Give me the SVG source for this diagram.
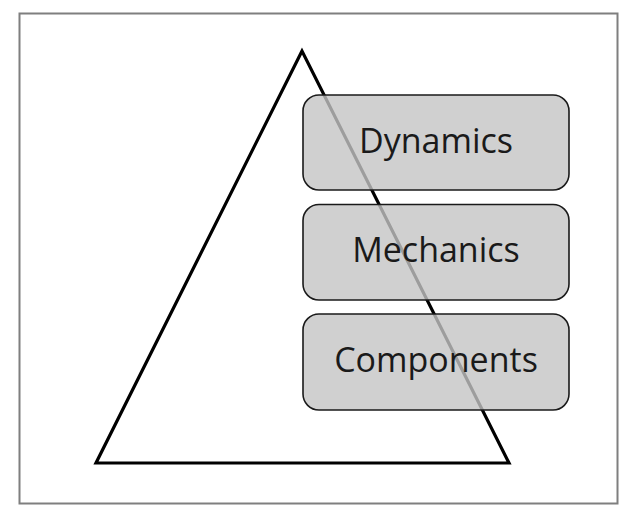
<svg xmlns="http://www.w3.org/2000/svg" width="631" height="523" viewBox="0 0 631 523">
<style>
.box{fill:#c4c4c4;fill-opacity:0.8;stroke:#1a1a1a;stroke-width:1.6}
.lbl{font-family:"Open Sans","Liberation Sans",sans-serif;font-size:34px;fill:#1a1a1a;text-anchor:middle}
</style>
<rect width="631" height="523" fill="#ffffff"/>
<rect x="19.5" y="13.5" width="598" height="490" fill="#ffffff" stroke="#7f7f7f" stroke-width="2"/>
<g id="pyramid">
<polygon points="302,51 96,463 509,463" fill="none" stroke="#000" stroke-width="3.2" stroke-linejoin="miter"/>
</g>
<g id="dynamics">
<rect class="box" x="303" y="95" width="266" height="95" rx="16"/>
<text class="lbl" x="436" y="153">Dynamics</text>
</g>
<g id="mechanics">
<rect class="box" x="303" y="204.5" width="266" height="95.5" rx="16"/>
<text class="lbl" x="436" y="262">Mechanics</text>
</g>
<g id="components">
<rect class="box" x="303" y="314" width="266" height="96" rx="16"/>
<text class="lbl" x="436" y="372">Components</text>
</g>
</svg>
